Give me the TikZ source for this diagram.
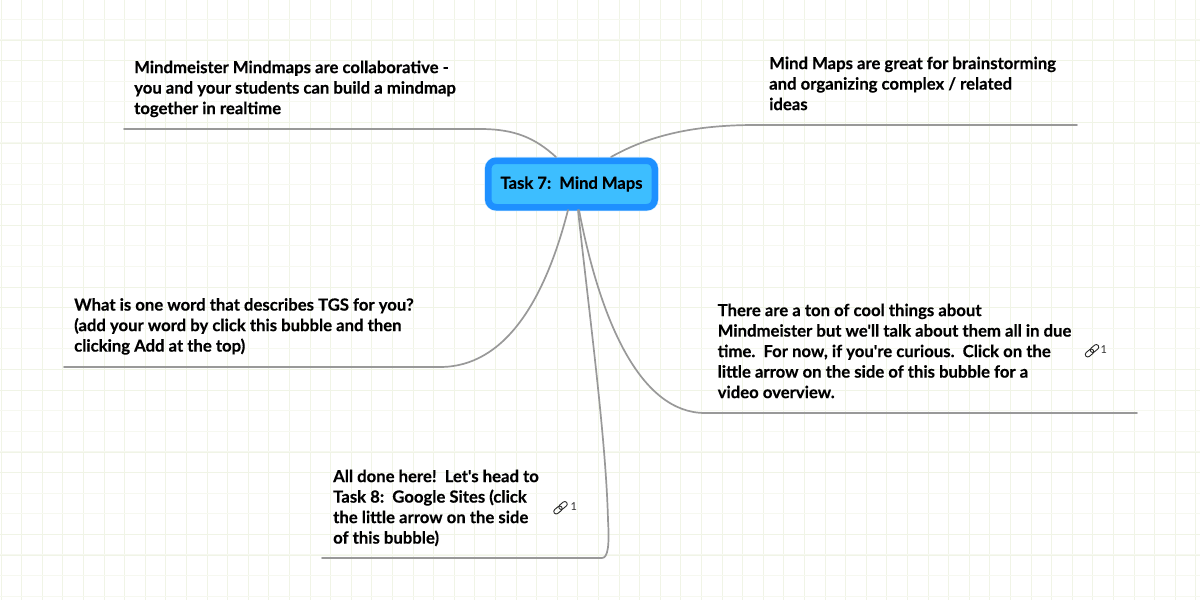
\documentclass[tikz,border=0pt]{standalone}
\usepackage{fontspec}
\setmainfont{Lato}[Ligatures=TeXOff,BoldFeatures={FakeBold=0.35}]
\usetikzlibrary{calc}
\definecolor{gridcol}{HTML}{F0F4E6}
\definecolor{gridlight}{HTML}{F6F8F0}
\definecolor{branch}{HTML}{999999}
\definecolor{rootfill}{HTML}{3DBEFF}
\definecolor{rootline}{HTML}{1E90FF}
\definecolor{rootglow}{HTML}{BFE3FF}
\tikzset{
  x=1pt,y=-1pt,
  branchline/.style={draw=branch,line width=1.7pt,line cap=round},
  topic/.style={anchor=north west,inner sep=0pt,align=left,font=\fontsize{16.7}{20.5}\selectfont\bfseries,text=black},
  rootbox/.style={preaction={draw=rootglow,line width=7.6pt},draw=rootline,fill=rootfill,line width=6.5pt,rounded corners=8pt,minimum width=166.5pt,minimum height=46.5pt,inner sep=0pt,font=\fontsize{16.6}{18}\selectfont\bfseries},
  linkcount/.style={inner sep=0pt,anchor=west,font=\fontsize{11}{12}\selectfont,text=black!80},
  linkring/.style={draw=black!85,line width=.9pt,rounded corners=2.4pt,minimum width=9.5pt,minimum height=5pt,inner sep=0pt,rotate=40}
}
\begin{document}
\begin{tikzpicture}
\useasboundingbox (0,0) rectangle (1200,600);
\fill[white] (0,0) rectangle (1200,600);
\foreach \i in {0,...,58}{\draw[gridcol,line width=1pt] ({1+20.6*\i},0) -- ({1+20.6*\i},600);}
\foreach \i in {0,...,29}{\draw[gridlight,line width=1pt] (0,{19.3+20.6*\i}) -- (1200,{19.3+20.6*\i});}
\foreach \i in {0,...,6}{\draw[gridcol,line width=1pt] (0,{40+82.4*\i}) -- (1200,{40+82.4*\i});\draw[gridcol,line width=1pt] (0,{60.6+82.4*\i}) -- (1200,{60.6+82.4*\i});}

\node[rootbox] (root) at (571.5,184) {Task 7:\ \ Mind Maps};

\node[topic] (t1) at (134,60.5) {Mindmeister Mindmaps are collaborative -\\you and your students can build a mindmap\\together in realtime};
\node[topic] (t2) at (769,56.5) {Mind Maps are great for brainstorming\\and organizing complex / related\\ideas};
\node[topic] (t3) at (74,298) {What is one word that describes TGS for you?\\(add your word by click this bubble and then\\clicking Add at the top)};
\node[topic] (t4) at (717.5,303.5) {There are a ton of cool things about\\Mindmeister but we'll talk about them all in due\\time.\ \ For now, if you're curious.\ \ Click on the\\little arrow on the side of this bubble for a\\video overview.};
\node[topic] (t5) at (333,469.5) {All done here!\ \ Let's head to\\Task 8:\ \ Google Sites (click\\the little arrow on the side\\of this bubble)};

\coordinate (e1) at (124,129);
\coordinate (e2) at (1077,125);
\coordinate (e3) at (64,367);
\coordinate (e4) at (1137,413);
\coordinate (e5) at (322,558);
\coordinate (s1) at (556,157);
\coordinate (s2) at (611,157);
\coordinate (s3) at (568,210);
\coordinate (s4) at (579,210);
\coordinate (s5) at (578,210);

\draw[branchline] (s1) .. controls (535,138) and (515,129) .. (480,129) -- (e1);
\draw[branchline] (s2) .. controls (650,135) and (695,125) .. (755,125) -- (e2);
\draw[branchline] (s3) .. controls (545,300) and (505,367) .. (440,367) -- (e3);
\draw[branchline] (s4) .. controls (600,320) and (640,413) .. (705,413) -- (e4);
\draw[branchline] (s5) .. controls (590,320) and (606,440) .. (608,520) .. controls (609.5,545) and (608,558) .. (602,558) -- (e5);

\node[linkring] (a1) at (1089.5,353) {};
\node[linkring] (a2) at (1094.5,348.5) {};
\node[linkcount] (c1) at (1100.5,350) {1};
\node[linkring] (b1) at (558,510) {};
\node[linkring] (b2) at (563,505.5) {};
\node[linkcount] (c2) at (570.5,506.5) {1};
\end{tikzpicture}
\end{document}
